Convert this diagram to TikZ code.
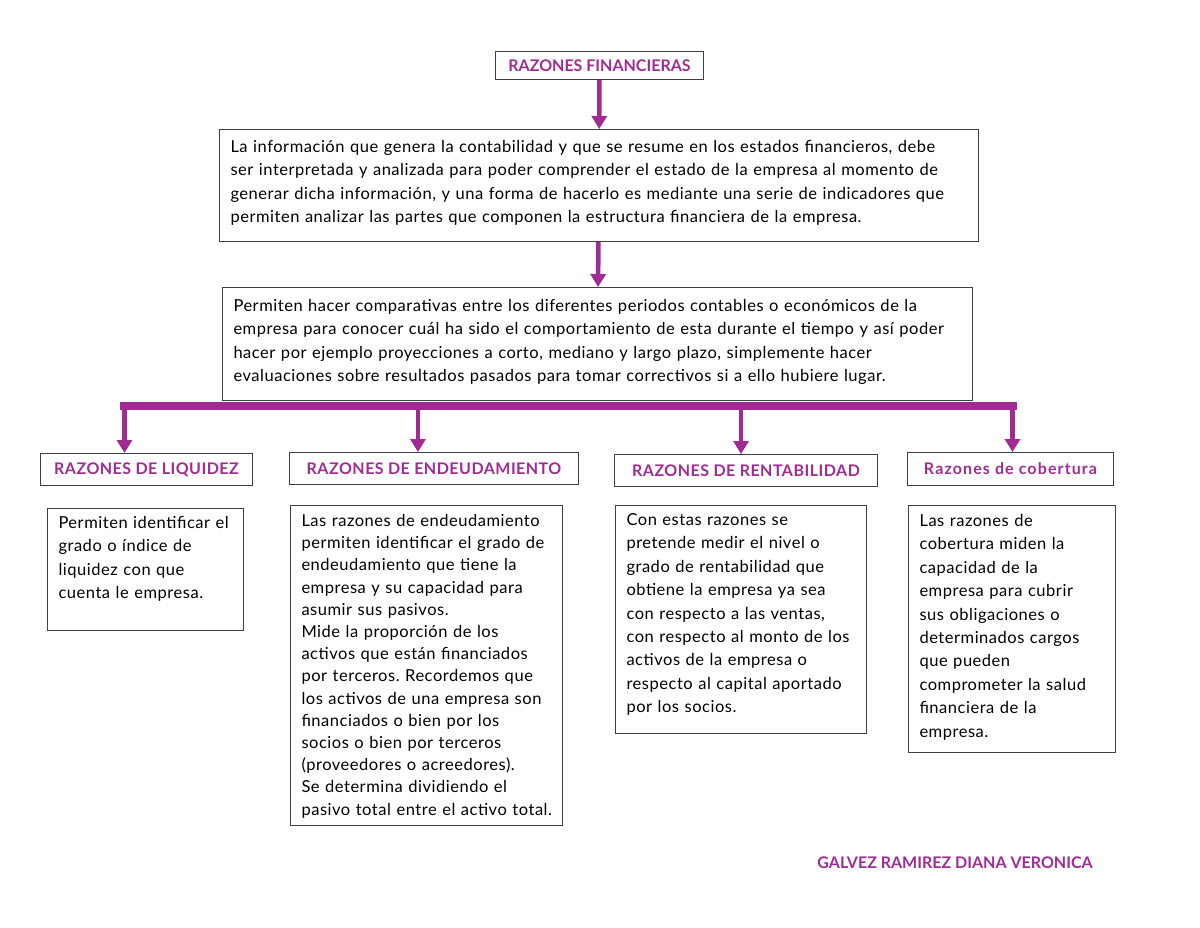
\documentclass[tikz,border=0pt]{standalone}
\usepackage{fontspec}
\setmainfont{Lato}
\newfontfamily\cuerpo[LetterSpace=3.2]{Lato}
\newfontfamily\rotulo[LetterSpace=3]{Lato}
\newfontfamily\rotuloancho[LetterSpace=7]{Lato}
\usetikzlibrary{arrows.meta, positioning}
\definecolor{razon}{RGB}{160,43,147}
\frenchspacing

\tikzset{
  caja/.style={draw=black!75, line width=1pt, anchor=north west, inner xsep=11pt, inner ysep=0pt, align=left, font=\cuerpo\fontsize{16.5}{23.4}\selectfont},
  titulo/.style={draw=black!75, line width=1pt, anchor=north west, inner sep=0pt, text=razon, font=\rotulo\fontsize{16}{18}\selectfont\bfseries},
  flecha/.style={color=razon, line width=4.5pt, -{Triangle[width=15pt,length=13pt]}},
  barra/.style={draw=razon, line width=8.5pt, line cap=rect},
}

\begin{document}
\begin{tikzpicture}[x=1pt, y=-1pt]
        \useasboundingbox (0,0) rectangle (1200,927);

        \node (fin) [titulo, minimum width=208pt, minimum height=28pt, font=\normalfont\fontsize{16}{18}\selectfont\bfseries] at (495,51) {RAZONES FINANCIERAS};
        \node (info) [caja, text width=737pt, text height=23pt, text depth=89pt] at (219,129)
            {La información que genera la contabilidad y que se resume en los estados financieros, debe\\
             ser interpretada y analizada para poder comprender el estado de la empresa al momento de\\
             generar dicha información, y una forma de hacerlo es mediante una serie de indicadores que\\
             permiten analizar las partes que componen la estructura financiera de la empresa.};
        \node (comp) [caja, text width=728pt, text height=24pt, text depth=89pt] at (222,287)
            {Permiten hacer comparativas entre los diferentes periodos contables o económicos de la\\
             empresa para conocer cuál ha sido el comportamiento de esta durante el tiempo y así poder\\
             hacer por ejemplo proyecciones a corto, mediano y largo plazo, simplemente hacer\\
             evaluaciones sobre resultados pasados para tomar correctivos si a ello hubiere lugar.};

        % encabezados
        \node (hliq) [titulo, minimum width=212pt, minimum height=32pt] at (40,453) {RAZONES DE LIQUIDEZ};
        \node (hend) [titulo, minimum width=289pt, minimum height=32pt] at (289,452) {RAZONES DE ENDEUDAMIENTO};
        \node (hren) [titulo, minimum width=263pt, minimum height=32pt] at (614,454) {RAZONES DE RENTABILIDAD};
        \node (hcob) [titulo, minimum width=206pt, minimum height=33pt, font=\rotuloancho\fontsize{16}{18}\selectfont\bfseries] at (907,452) {Razones de cobertura};

        % textos
        \node (liq) [caja, text width=174pt, text height=20pt, text depth=102pt] at (47,508)
            {Permiten identificar el\\ grado o índice de\\ liquidez con que\\ cuenta le empresa.};
        \node (end) [caja, text width=250pt, text height=21pt, text depth=299pt,
                     font=\cuerpo\fontsize{16.5}{22.2}\selectfont] at (290,505)
            {Las razones de endeudamiento\\ permiten identificar el grado de\\ endeudamiento que tiene la\\
             empresa y su capacidad para\\ asumir sus pasivos.\\ Mide la proporción de los\\
             activos que están financiados\\ por terceros. Recordemos que\\ los activos de una empresa son\\
             financiados o bien por los\\ socios o bien por terceros\\ (proveedores o acreedores).\\
             Se determina dividiendo el\\ pasivo total entre el activo total.};
        \node (ren) [caja, text width=229pt, text height=20pt, text depth=208pt] at (615,505)
            {Con estas razones se\\ pretende medir el nivel o\\ grado de rentabilidad que\\
             obtiene la empresa ya sea\\ con respecto a las ventas,\\ con respecto al monto de los\\
             activos de la empresa o\\ respecto al capital aportado\\ por los socios.};
        \node (cob) [caja, text width=185pt, text height=21pt, text depth=226pt] at (908,505)
            {Las razones de\\ cobertura miden la\\ capacidad de la\\ empresa para cubrir\\
             sus obligaciones o\\ determinados cargos\\ que pueden\\ comprometer la salud\\
             financiera de la\\ empresa.};

        \node (autora) [text=razon, font=\fontsize{16}{18}\selectfont\bfseries] at (955,863) {GALVEZ RAMIREZ DIANA VERONICA};

        % barra y flechas
        \coordinate (b1) at (124.5,406);
        \coordinate (b2) at (418,406);
        \coordinate (b3) at (741,406);
        \coordinate (b4) at (1012.5,406);
        \draw [barra] (b1) -- (b4);

        \path [flecha]
            (fin) edge (info)
            (info) edge (comp)
            (b1) edge (b1 |- hliq.north)
            (b2) edge (b2 |- hend.north)
            (b3) edge (b3 |- hren.north)
            (b4) edge (b4 |- hcob.north)
            ;
\end{tikzpicture}
\end{document}
